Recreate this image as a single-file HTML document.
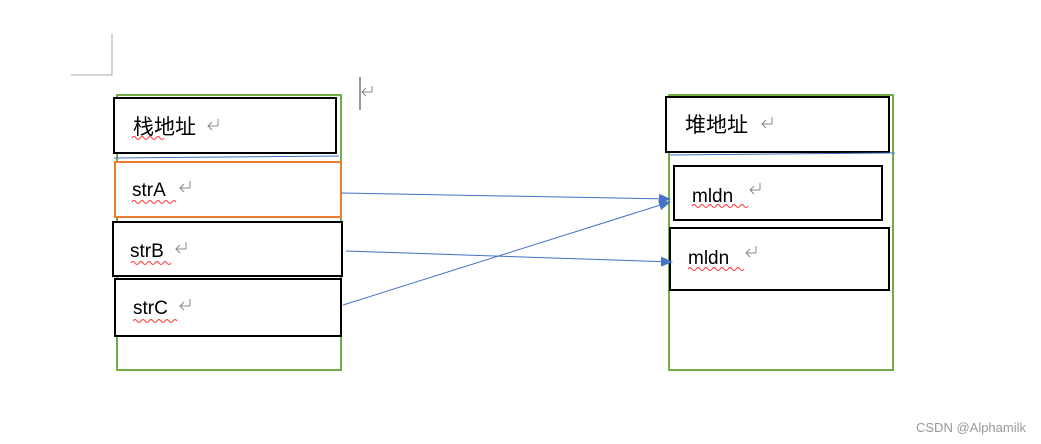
<!DOCTYPE html>
<html><head><meta charset="utf-8"><style>
html,body{margin:0;padding:0;background:#fff;width:1041px;height:444px;overflow:hidden}
text{font-family:"Liberation Sans","Noto Sans CJK SC",sans-serif}
</style></head><body>
<svg width="1041" height="444" xmlns="http://www.w3.org/2000/svg">
<defs><marker id="a" markerWidth="12" markerHeight="10" refX="11" refY="5" orient="auto" markerUnits="userSpaceOnUse"><path d="M0,0 L12,5 L0,10 z" fill="#4472c4"/></marker></defs>
<path d="M112,34 V75 H71" fill="none" stroke="#aaa" stroke-width="1"/>
<line x1="360" y1="77" x2="360" y2="110" stroke="#333" stroke-width="1"/>
<path d="M372,92 h-10 m4,-4 l-4,4 l4,4 M372,86 v6" fill="none" stroke="#888" stroke-width="1"/>
<!-- left column -->
<rect x="117" y="95" width="224" height="275" fill="none" stroke="#70ad47" stroke-width="2"/>
<rect x="114" y="98" width="222" height="55" fill="#fff" stroke="#000" stroke-width="2"/>
<line x1="114" y1="158" x2="339" y2="156" stroke="#4472c4" stroke-width="1"/>
<rect x="115" y="162" width="226" height="55" fill="#fff" stroke="#ed7d31" stroke-width="2"/>
<rect x="113" y="222" width="229" height="54" fill="#fff" stroke="#000" stroke-width="2"/>
<rect x="115" y="279" width="226" height="57" fill="#fff" stroke="#000" stroke-width="2"/>
<text x="133" y="134" font-size="21">栈地址</text>
<text x="132" y="196" font-size="19">strA</text>
<text x="130" y="257" font-size="19">strB</text>
<text x="133" y="314" font-size="19">strC</text>
<!-- right column -->
<rect x="669" y="95" width="224" height="275" fill="none" stroke="#70ad47" stroke-width="2"/>
<rect x="666" y="97" width="223" height="55" fill="#fff" stroke="#000" stroke-width="2"/>
<line x1="669" y1="155" x2="895" y2="153" stroke="#4472c4" stroke-width="1"/>
<rect x="674" y="166" width="208" height="54" fill="#fff" stroke="#000" stroke-width="2"/>
<rect x="670" y="228" width="219" height="62" fill="#fff" stroke="#000" stroke-width="2"/>
<text x="685" y="132" font-size="21">堆地址</text>
<text x="692" y="202" font-size="19">mldn</text>
<text x="688" y="264" font-size="19">mldn</text>
<!-- return marks -->
<g fill="none" stroke="#888" stroke-width="1">
<path d="M218,126 h-10 m4,-4 l-4,4 l4,4 M218,119 v7"/>
<path d="M190,188 h-10 m4,-4 l-4,4 l4,4 M190,181 v7"/>
<path d="M186,249 h-10 m4,-4 l-4,4 l4,4 M186,242 v7"/>
<path d="M190,306 h-10 m4,-4 l-4,4 l4,4 M190,299 v7"/>
<path d="M772,124 h-10 m4,-4 l-4,4 l4,4 M772,117 v7"/>
<path d="M760,190 h-10 m4,-4 l-4,4 l4,4 M760,183 v7"/>
<path d="M756,253 h-10 m4,-4 l-4,4 l4,4 M756,246 v7"/>
</g>
<!-- squiggles -->
<g fill="none" stroke="#f33" stroke-width="1">
<path d="M132,138 q2,-3 4,0 t4,0 t4,0 t4,0 t4,0 t4,0 t4,0 t4,0"/>
<path d="M132,202 q2,-3 4,0 t4,0 t4,0 t4,0 t4,0 t4,0 t4,0 t4,0 t4,0 t4,0 t4,0"/>
<path d="M131,263 q2,-3 4,0 t4,0 t4,0 t4,0 t4,0 t4,0 t4,0 t4,0 t4,0 t4,0"/>
<path d="M133,321 q2,-3 4,0 t4,0 t4,0 t4,0 t4,0 t4,0 t4,0 t4,0 t4,0 t4,0 t4,0"/>
<path d="M692,206 q2,-3 4,0 t4,0 t4,0 t4,0 t4,0 t4,0 t4,0 t4,0 t4,0 t4,0 t4,0 t4,0 t4,0 t4,0"/>
<path d="M688,269 q2,-3 4,0 t4,0 t4,0 t4,0 t4,0 t4,0 t4,0 t4,0 t4,0 t4,0 t4,0 t4,0 t4,0 t4,0"/>
</g>
<!-- arrows -->
<g stroke="#4472c4" stroke-width="1" fill="none">
<line x1="341" y1="193" x2="670" y2="199" marker-end="url(#a)"/>
<line x1="346" y1="251" x2="672" y2="262" marker-end="url(#a)"/>
<line x1="343" y1="305" x2="670" y2="202" marker-end="url(#a)"/>
</g>
<text x="1026" y="432" font-size="13" fill="#999" text-anchor="end">CSDN @Alphamilk</text>
</svg>
</body></html>
